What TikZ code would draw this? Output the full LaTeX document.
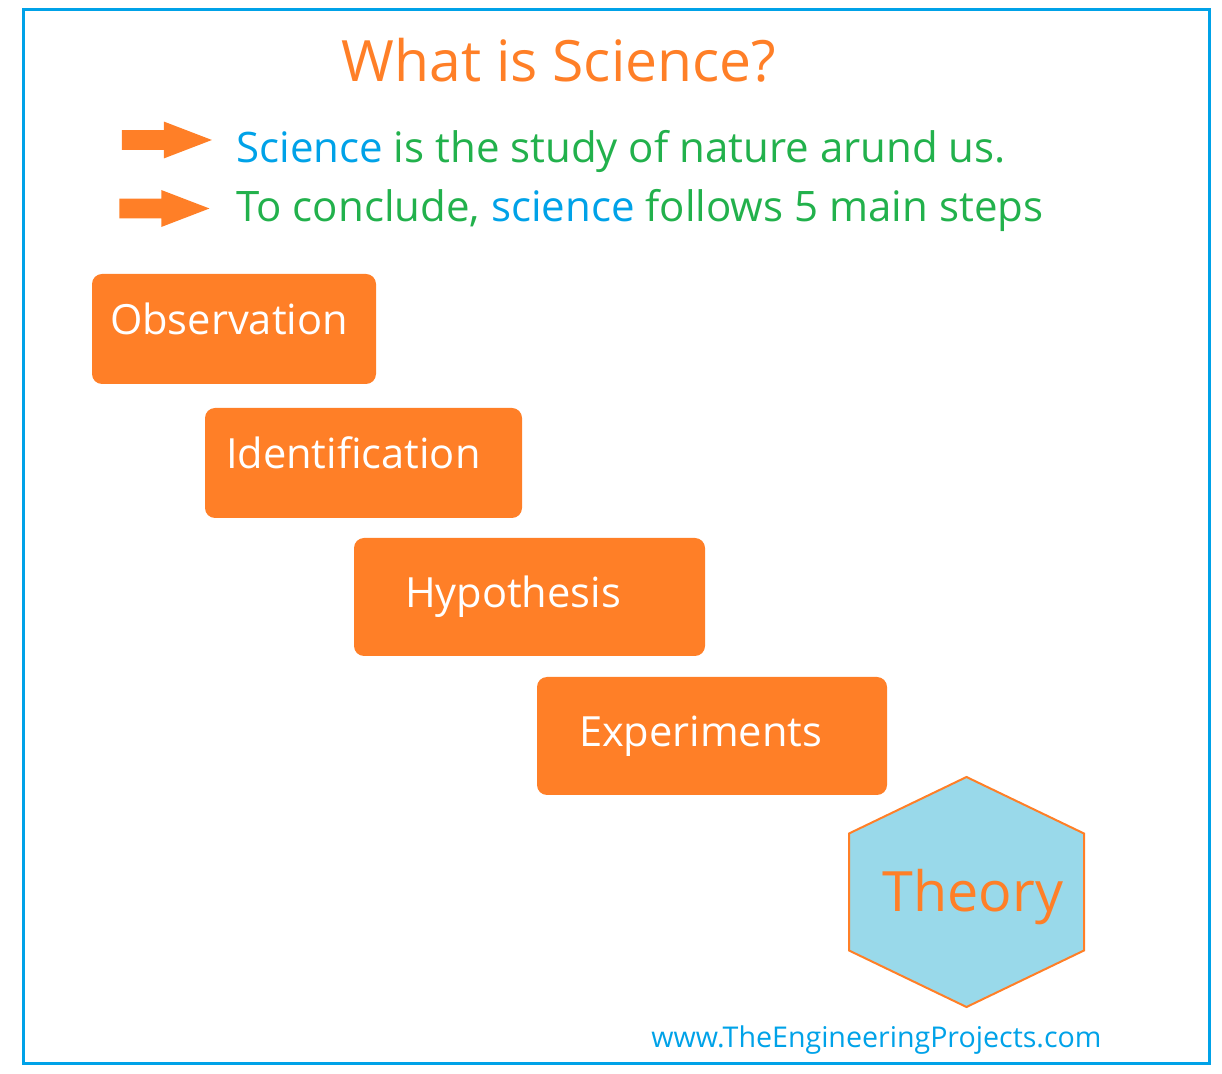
\documentclass[tikz,border=0pt]{standalone}
\usepackage{fontspec}
\setmainfont{Open Sans}
\usepackage{tikz}
\usetikzlibrary{shapes.geometric, shapes.arrows, positioning}
\definecolor{orangeP}{RGB}{255,127,39}
\definecolor{blueP}{RGB}{0,162,232}
\definecolor{greenP}{RGB}{34,177,76}
\definecolor{turqP}{RGB}{153,217,234}
\tikzstyle{stepbox} = [
rectangle, rounded corners=5pt, minimum height=55pt, inner ysep=0pt,
align=flush left, fill=orangeP, text=white, font=\fontsize{20.8}{24}\selectfont,
text height=10pt, text depth=4pt
]
\tikzstyle{stepbox_L} = [
stepbox, minimum height=59pt, text height=14pt, text depth=3pt
]
\tikzstyle{bularrow} = [
single arrow, fill=orangeP, inner xsep=0pt, inner ysep=4.75pt, minimum height=45pt, minimum width=18pt,
single arrow head extend=4.25pt, single arrow tip angle=42
]
\tikzstyle{bultext} = [
anchor=base west, inner sep=0pt, text=greenP, font=\fontsize{21}{24}\selectfont
]
\tikzstyle{hexagon} = [fill=turqP, draw=orangeP, line width=1pt]

\begin{document}
\begin{tikzpicture}[node distance=67pt]
			\useasboundingbox (0,0) rectangle (611pt,-537pt);
			\draw [blueP, line width=1.5pt] (11.75pt,-4.75pt) rectangle (604.75pt,-531.75pt);

			% Titulo e texto
			\node (title) [anchor=base, inner sep=0pt, text=orangeP, font=\fontsize{28.5}{34}\selectfont] at (279.5pt,-41pt) {What is Science?};
			\node (line_a) [bultext] at (118pt,-81.5pt) {\textcolor{blueP}{Science} is the study of nature arund us.};
			\node (line_b) [bultext] at (118pt,-111pt) {To conclude, \textcolor{blueP}{science} follows 5 main steps};
			\node (arrow_a) [bularrow] at (77pt,-70pt) {};
			\node (arrow_b) [bularrow, minimum width=18.5pt] at (75.75pt,-104.25pt) {};

			% Passos
			\node (obs) [stepbox, text width=124pt, inner xsep=9pt] at (117pt,-164.5pt) {Observation};
			\node (ident) [stepbox, below of=obs, xshift=64.75pt, text width=137.5pt, inner xsep=10.5pt] {Identification};
			\node (hyp) [stepbox_L, below of=ident, xshift=83pt, text width=124.5pt, inner xsep=25.5pt] {Hypothesis};
			\node (exper) [stepbox_L, below of=hyp, xshift=91.25pt, yshift=-2.5pt, text width=133pt, inner xsep=21pt] {Experiments};

			% Teoria
			\coordinate (hexc) at (483.25pt,-446pt);
			\filldraw [hexagon] (hexc) +(0pt,57.5pt) -- +(-58.75pt,29.25pt) -- +(-58.75pt,-29.25pt) -- +(0pt,-57.5pt) -- +(58.75pt,-29.25pt) -- +(58.75pt,29.25pt) -- cycle;
			\node (theory) [anchor=base, inner sep=0pt, xshift=3.25pt, yshift=-10pt, text=orangeP, font=\fontsize{27.8}{34}\selectfont] at (hexc) {Theory};

			\node (url) [anchor=base, inner sep=0pt, text=blueP, font=\fontsize{14.3}{16}\selectfont] at (438.25pt,-523.5pt) {www.TheEngineeringProjects.com};

		\end{tikzpicture}
\end{document}
